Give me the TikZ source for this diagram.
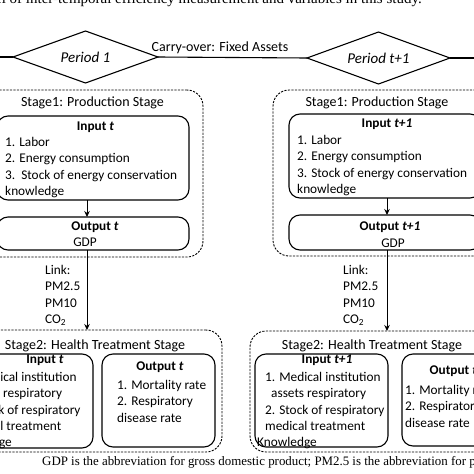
\documentclass[tikz,border=0pt]{standalone}
\usepackage{fontspec}
\setmainfont{Carlito}
\newfontfamily\capfont{Liberation Serif}
\usetikzlibrary{arrows.meta}
\tikzset{
  dbox/.style={draw, dash pattern=on 2.2pt off 1.3pt, line width=0.9pt, rounded corners=16pt, inner sep=0pt, outer sep=0pt, anchor=north west},
  sbox/.style={draw, line width=1.1pt, rounded corners=11pt, inner sep=0pt, outer sep=0pt, anchor=north west},
  ttl/.style={inner sep=0pt, anchor=base, font=\fontsize{14}{16}\selectfont},
  hd/.style={inner sep=0pt, anchor=base, font=\fontsize{13.3}{16}\selectfont\bfseries},
  plain/.style={inner sep=0pt, anchor=base, font=\fontsize{13.3}{16}\selectfont},
  lst/.style={inner sep=0pt, anchor=north west, align=left, font=\fontsize{13.3}{16.3}\selectfont},
  arr/.style={-{Stealth[length=6pt,width=5.5pt]}, line width=0.9pt},
  pline/.style={line width=1.1pt, line join=miter},
  ptext/.style={inner sep=0pt, font=\fontsize{15}{18}\selectfont\itshape},
  captext/.style={inner sep=0pt},
}
\begin{document}
\begin{tikzpicture}[x=1pt,y=-1pt]
\useasboundingbox (0,0) rectangle (474,474);
\clip (0,0) rectangle (474,474);
\fill[white] (0,0) rectangle (474,474);

% captions
\node[captext, anchor=base east, font=\capfont\fontsize{15}{18}\selectfont] (captop) at (422,3) {model of inter-temporal efficiency measurement and variables in this study.};
\node[captext, anchor=base west, font=\capfont\fontsize{12.9}{15}\selectfont] (capbot) at (42,465) {GDP is the abbreviation for gross domestic product; PM2.5 is the abbreviation for particulate matter};

% periods (diamonds)
\coordinate (p1w) at (13,57);   \coordinate (p1n) at (85.5,31);
\coordinate (p1e) at (158,57);  \coordinate (p1s) at (85.5,83);
\coordinate (p2w) at (307,58);  \coordinate (p2n) at (378.5,32);
\coordinate (p2e) at (450,58);  \coordinate (p2s) at (378.5,84);
\draw[pline] (p1w) -- (p1n) -- (p1e) -- (p1s) -- cycle;
\draw[pline] (p2w) -- (p2n) -- (p2e) -- (p2s) -- cycle;
\node[ptext] (p1) at (85.5,57) {Period 1};
\node[ptext] (p2) at (378.5,58) {Period t+1};
\coordinate (lw) at (0,57);
\coordinate (re) at (474,58);
\draw[pline] (lw) -- (p1w);
\draw[pline] (p1e) -- (p2w);
\draw[pline] (p2e) -- (re);
\node[ttl] (carry) at (220,51.5) {Carry-over: Fixed Assets};

% ---------- left column ----------
\node[dbox, minimum width=222pt, minimum height=167pt] (s1L) at (-19,90) {};
\node[ttl] (s1Lt) at (92.5,106) {Stage1: Production Stage};
\node[sbox, minimum width=192pt, minimum height=84pt] (inL) at (-3,116) {};
\node[hd] (inLt) at (95.5,130.5) {Input \textit{t}};
\node[lst] (inLl) at (5,137) {1. Labor\\2. Energy consumption\\3.\ \ Stock of energy conservation\\knowledge};
\node[sbox, minimum width=192pt, minimum height=33pt] (outL) at (-3,217) {};
\node[hd] (outLt) at (95,230.5) {Output \textit{t}};
\node[plain] (outLg) at (85,246.5) {GDP};

\node[lst] (linkL) at (45,265) {Link:\\PM2.5\\PM10\\CO\textsubscript{2}};

\node[dbox, minimum width=274pt, minimum height=122pt] (s2L) at (-52,330) {};
\node[ttl] (s2Lt) at (95,349.5) {Stage2: Health Treatment Stage};
\node[sbox, minimum width=139pt, minimum height=94pt] (hinL) at (-46,354) {};
\node[hd] (hinLt) at (45,363.5) {Input \textit{t}};
\node[lst] (hinLl) at (-39,372) {1. Medical institution\\\hspace*{6pt}assets respiratory\\2. Stock of respiratory\\medical treatment\\\hspace*{-9pt}Knowledge};
\node[sbox, minimum width=113pt, minimum height=93pt] (houtL) at (102,354) {};
\node[hd] (houtLt) at (160,370.5) {Output \textit{t}};
\node[lst] (houtLl) at (117,380) {1. Mortality rate\\2. Respiratory\\disease rate};

\coordinate (colL) at (87,0);
\draw[arr] (inL.south -| colL) -- (outL.north -| colL);
\draw[arr] (outL.south -| colL) -- (s2L.north -| colL);

% ---------- right column ----------
\node[dbox, minimum width=222pt, minimum height=166pt] (s1R) at (273,90) {};
\node[ttl] (s1Rt) at (377,106.5) {Stage1: Production Stage};
\node[sbox, minimum width=192pt, minimum height=84pt] (inR) at (289,114) {};
\node[hd] (inRt) at (387,127.5) {Input \textit{t+1}};
\node[lst] (inRl) at (297,135) {1. Labor\\2. Energy consumption\\3. Stock of energy conservation\\knowledge};
\node[sbox, minimum width=192pt, minimum height=35pt] (outR) at (289,215) {};
\node[hd] (outRt) at (390,230.5) {Output \textit{t+1}};
\node[plain] (outRg) at (393,247.5) {GDP};

\node[lst] (linkR) at (343,265) {Link:\\PM2.5\\PM10\\CO\textsubscript{2}};

\node[dbox, minimum width=272pt, minimum height=121pt] (s2R) at (250,331) {};
\node[ttl] (s2Rt) at (372,349.5) {Stage2: Health Treatment Stage};
\node[sbox, minimum width=133pt, minimum height=93pt] (hinR) at (255,354) {};
\node[hd] (hinRt) at (327,363.5) {Input \textit{t+1}};
\node[lst] (hinRl) at (265,372) {1. Medical institution\\\hspace*{6pt}assets respiratory\\2. Stock of respiratory\\medical treatment\\\hspace*{-8pt}Knowledge};
\node[sbox, minimum width=113pt, minimum height=92pt] (houtR) at (402,354) {};
\node[hd] (houtRt) at (460,374.5) {Output \textit{t+1}};
\node[lst] (houtRl) at (405,385) {1. Mortality rate\\2. Respiratory\\disease rate};

\coordinate (colR) at (387,0);
\draw[arr] (inR.south -| colR) -- (outR.north -| colR);
\draw[arr] (outR.south -| colR) -- (s2R.north -| colR);
\end{tikzpicture}
\end{document}
